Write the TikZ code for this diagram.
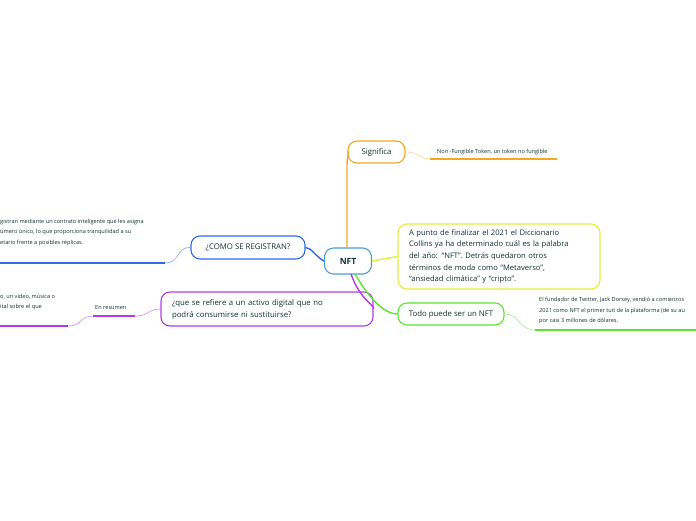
\documentclass[tikz,border=0pt]{standalone}
\usepackage{fontspec}
\setmainfont{Open Sans}
\definecolor{tx}{HTML}{14302E}
\definecolor{cor}{HTML}{F5A623}
\definecolor{cye}{HTML}{DDF03A}
\definecolor{cgr}{HTML}{5AE62E}
\definecolor{cbl}{HTML}{2E6BE6}
\definecolor{cpu}{HTML}{B53BE8}
\definecolor{cnb}{HTML}{4A9FD8}
\begin{document}
\begin{tikzpicture}[x=1pt,y=-1pt,
 topic/.style={draw=#1,line width=1.1pt,rounded corners=9pt,fill=white,text=tx,font=\fontsize{7.8}{9}\selectfont,inner sep=0pt},
 leaf/.style={text=tx,font=\fontsize{5.6}{10.5}\selectfont,inner sep=0pt,align=left},
 con/.style={line width=1.4pt,draw=#1}]
\useasboundingbox (0,0) rectangle (696,520);
\node[topic=cnb,minimum width=47pt,minimum height=26pt,font=\fontsize{8.5}{10}\selectfont\bfseries] (nft) at (348,261) {NFT};
\node[topic=cor,minimum width=57pt,minimum height=22pt] (sig) at (376.5,152) {Significa};
\node[topic=cye,minimum width=202pt,minimum height=65pt,align=left,text width=180pt,font=\fontsize{7.6}{11.6}\selectfont] (col) at (499,256.5) {A punto de finalizar el 2021 el Diccionario\\Collins ya ha determinado cuál es la palabra\\del año: “NFT”. Detrás quedaron otros\\términos de moda como “Metaverso”,\\“ansiedad climática” y “cripto”.};
\node[topic=cgr,minimum width=106pt,minimum height=22pt] (todo) at (451,314) {Todo puede ser un NFT};
\node[topic=cbl,minimum width=114pt,minimum height=23pt] (como) at (248,247.5) {¿COMO SE REGISTRAN?};
\node[topic=cpu,minimum width=212pt,minimum height=34pt,align=left,text width=190pt,font=\fontsize{7.8}{12}\selectfont] (que) at (267,309) {¿que se refiere a un activo digital que no\\podrá consumirse ni sustituirse?};
% leaves
\node[leaf,anchor=west] (l1) at (437,152) {Non -Fungible Token, un token no fungible};
\coordinate (l1a) at (430,159); \coordinate (l1b) at (557,159);
\node[leaf,anchor=north west] (l2) at (539,297.5) {El fundador de Twitter, Jack Dorsey, vendió a comienzos\\2021 como NFT el primer tuit de la plataforma (de su au\\por casi 3 millones de dólares.};
\coordinate (l2a) at (535,330); \coordinate (l2b) at (696,330);
\node[leaf,anchor=north west] (l3) at (0,219) {gistran mediante un contrato inteligente que les asigna\\úmero único, lo que proporciona tranquilidad a su\\etario frente a posibles réplicas.};
\coordinate (l3a) at (165,263); \coordinate (l3b) at (0,263);
\node[leaf,anchor=west] (er) at (95,308) {En resumen};
\coordinate (era) at (135,316); \coordinate (erb) at (93,316);
\node[leaf,anchor=north west] (l4) at (0,294) {o, un video, música o\\ital sobre el que};
\coordinate (l4a) at (68,326); \coordinate (l4b) at (0,326);
% connectors
\draw[con=cor] (347,248) -- (347,165) .. controls (347,155) and (350,152) .. (sig.west);
\draw[con=cye] (nft.east) -- (col.west);
\draw[con=cgr] (355,274) .. controls (370,300) and (385,314) .. (todo.west);
\draw[con=cbl] (nft.west) .. controls (315,256) and (312,248) .. (como.east);
\draw[con=cpu] (351,274) .. controls (360,300) and (375,305) .. (que.east);
\draw[con=cor!50,line width=0.6pt] (sig.east) .. controls (420,152) and (418,159) .. (l1a);
\draw[con=cor] (l1a) -- (l1b);
\draw[con=cgr!60,line width=0.6pt] (todo.east) .. controls (520,314) and (518,330) .. (l2a);
\draw[con=cgr] (l2a) -- (l2b);
\draw[con=cbl!60,line width=0.6pt] (como.west) .. controls (176,247) and (180,263) .. (l3a);
\draw[con=cbl] (l3a) -- (l3b);
\draw[con=cpu!60,line width=0.6pt] (que.west) .. controls (147,309) and (150,316) .. (era);
\draw[con=cpu] (era) -- (erb);
\draw[con=cpu!60,line width=0.6pt] (erb) .. controls (80,316) and (82,326) .. (l4a);
\draw[con=cpu] (l4a) -- (l4b);
\end{tikzpicture}
\end{document}
